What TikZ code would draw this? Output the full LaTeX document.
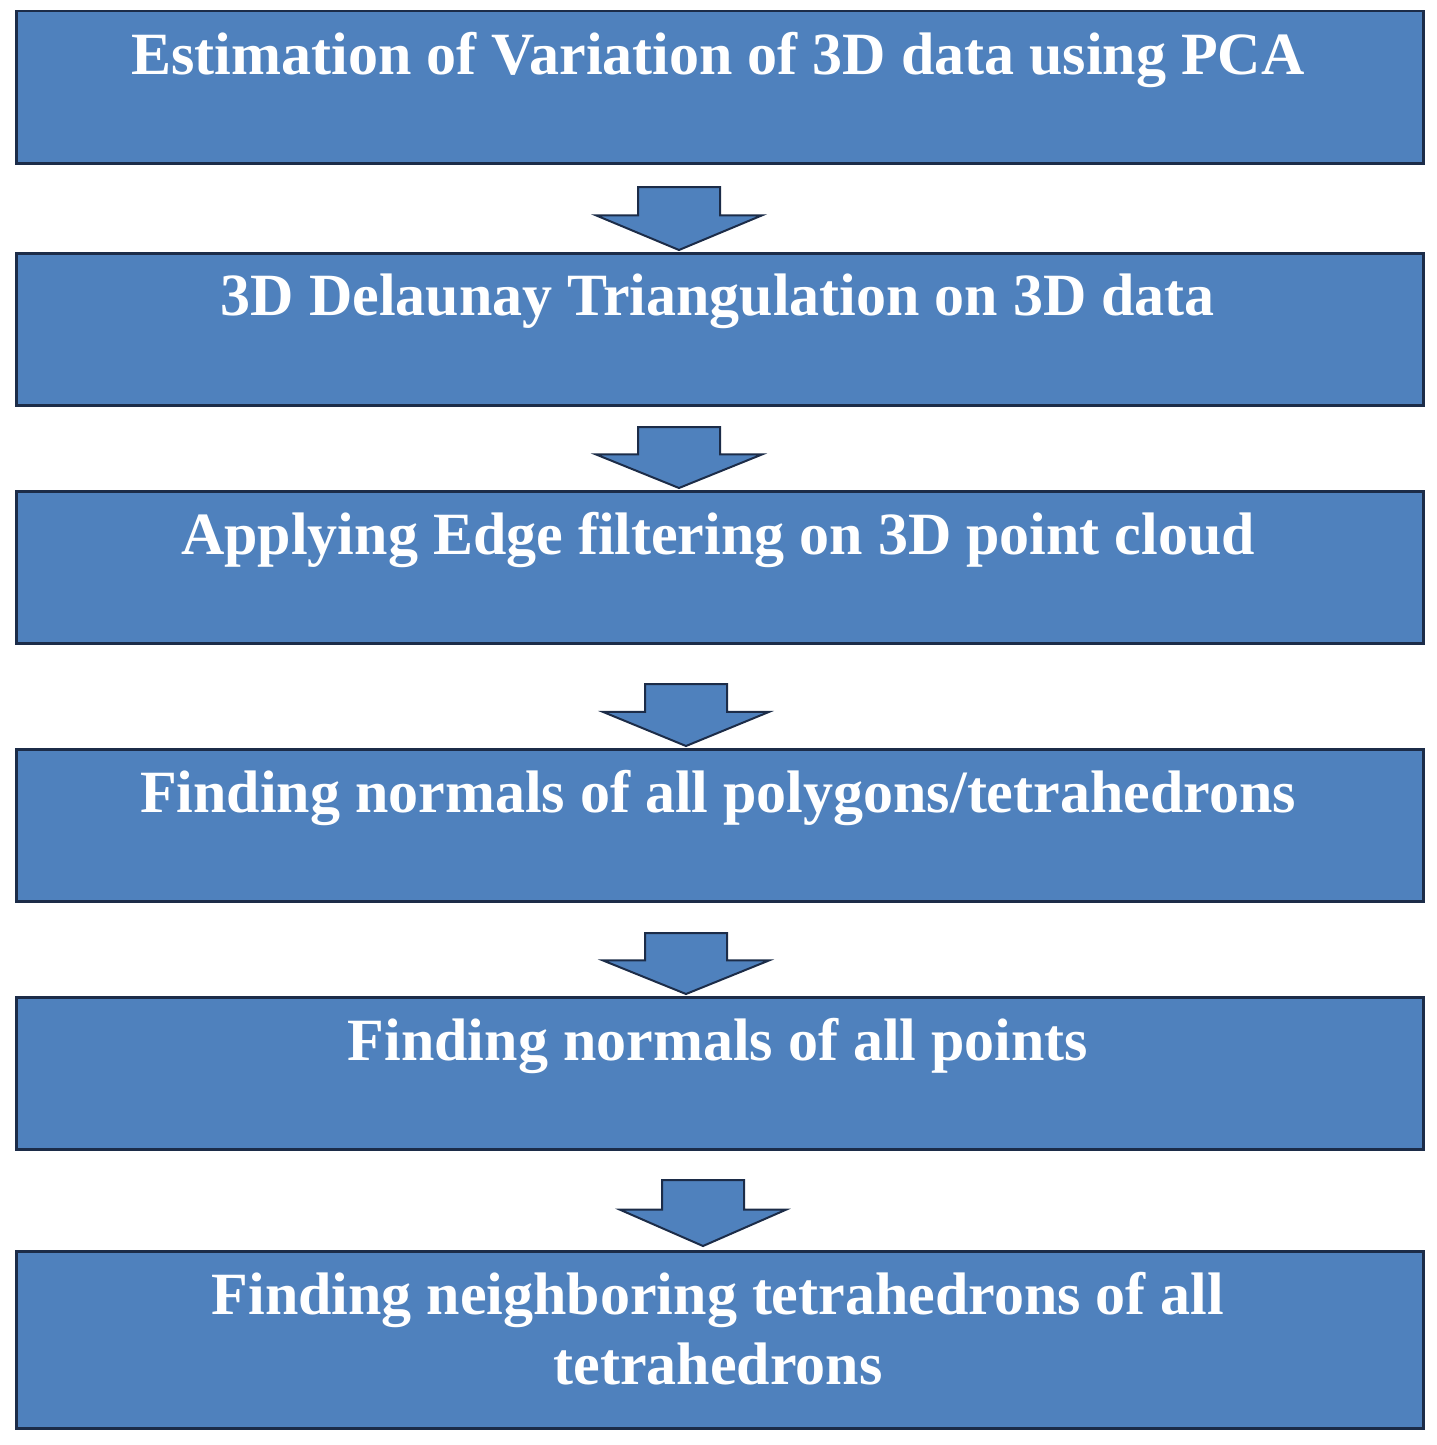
\documentclass[tikz,border=0pt]{standalone}
\usepackage{fontspec}
\setmainfont{Liberation Serif}
\usetikzlibrary{calc}
\definecolor{boxblue}{HTML}{4F81BD}
\definecolor{boxline}{HTML}{1C2C48}
\begin{document}
\begin{tikzpicture}[x=1pt,y=-1pt,
  stepbox/.style={draw=boxline,line width=2.5pt,fill=boxblue,inner sep=0pt,anchor=north west},
  steptext/.style={text=white,font=\bfseries\fontsize{60}{70}\selectfont,align=center,anchor=north,inner sep=0pt},
  blockarrow/.style={draw=boxline,line width=2pt,fill=boxblue,line join=miter}]
\useasboundingbox (0,0) rectangle (1436,1445);
\newcommand\stepat[4]{% name, top, bottom, text
  \node[stepbox,minimum width=1407pt,minimum height={#3-#2}] (#1) at (15,#2) {};
  \node[steptext] (#1t) at (718,#2+22) {#4};}
\stepat{b1}{10}{162}{Estimation of Variation of 3D data using PCA}
\stepat{b2}{252}{404}{3D Delaunay Triangulation on 3D data}
\stepat{b3}{490}{642}{Applying Edge filtering on 3D point cloud}
\stepat{b4}{748}{900}{Finding normals of all polygons/tetrahedrons}
\stepat{b5}{996}{1148}{Finding normals of all points}
\stepat{b6}{1250}{1427}{Finding neighboring tetrahedrons of all\\tetrahedrons}
\newcommand\arrowat[4]{% name, center x, top, tip
  \coordinate (#1) at (#2,#3);
  \draw[blockarrow] (#1) ++(-41,0) -- ++(82,0) -- ++(0,{(#4-#3)*0.45}) -- ++(42,0)
    -- ($(#1)+(0,#4-#3)$) -- ($(#1)+(-83,{(#4-#3)*0.45})$) -- ++(42,0) -- cycle;}
\arrowat{a1}{679}{187}{250}
\arrowat{a2}{679}{427}{488}
\arrowat{a3}{686}{684}{746}
\arrowat{a4}{686}{933}{994}
\arrowat{a5}{703}{1180}{1246}
\end{tikzpicture}
\end{document}
